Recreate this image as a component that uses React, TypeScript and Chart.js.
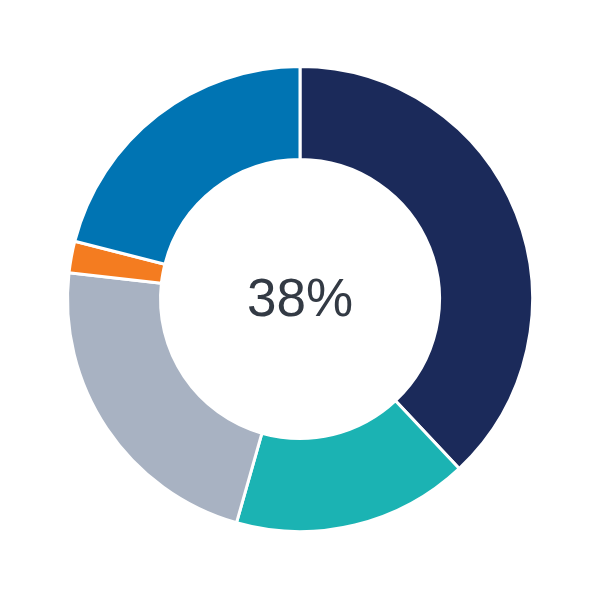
import { useEffect, useRef } from 'react';
import Chart from 'chart.js/auto';

const segmentLabels = ['Navy', 'Teal', 'Gray', 'Orange', 'Blue'];
const segmentValues = [38, 16.4, 22.4, 2.2, 21.0];
const segmentColors = ['#1b2a5a', '#1bb3b3', '#a8b2c2', '#f47c20', '#0074b3'];
const centerText = '38%';

export default function App() {
  const chartRef = useRef<HTMLCanvasElement | null>(null);
  const chartInstance = useRef<Chart | null>(null);

  useEffect(() => {
    if (!chartRef.current) return;
    document.body.style.margin = '0';
    if (chartInstance.current) chartInstance.current.destroy();

    const ctx = chartRef.current.getContext('2d');
    if (!ctx) return;

    // draws the big percentage in the hole
    const centerLabel = {
      id: 'centerLabel',
      afterDraw(chart: Chart) {
        const meta = chart.getDatasetMeta(0);
        const arc = meta.data[0] as any;
        if (!arc) return;
        const c = chart.ctx;
        c.save();
        c.font = '53px "Liberation Sans", Arial, sans-serif';
        c.fillStyle = '#333a44';
        c.textAlign = 'center';
        c.textBaseline = 'middle';
        c.fillText(centerText, arc.x, arc.y + 2);
        c.restore();
      }
    };

    chartInstance.current = new Chart(ctx, {
      type: 'doughnut',
      data: {
        labels: segmentLabels,
        datasets: [
          {
            data: segmentValues,
            backgroundColor: segmentColors,
            borderColor: '#ffffff',
            borderWidth: 3,
            hoverOffset: 0
          }
        ]
      },
      options: {
        animation: false,
        responsive: true,
        maintainAspectRatio: false,
        cutout: '60%',
        layout: { padding: { top: 65, bottom: 67, left: 66, right: 66 } },
        plugins: {
          legend: { display: false },
          tooltip: { enabled: false }
        }
      },
      plugins: [centerLabel]
    });

    return () => {
      if (chartInstance.current) {
        chartInstance.current.destroy();
        chartInstance.current = null;
      }
    };
  }, []);

  return (
    <div style={{ width: 600, height: 600, position: 'relative', background: '#fff' }}>
      <canvas ref={chartRef} />
    </div>
  );
}
